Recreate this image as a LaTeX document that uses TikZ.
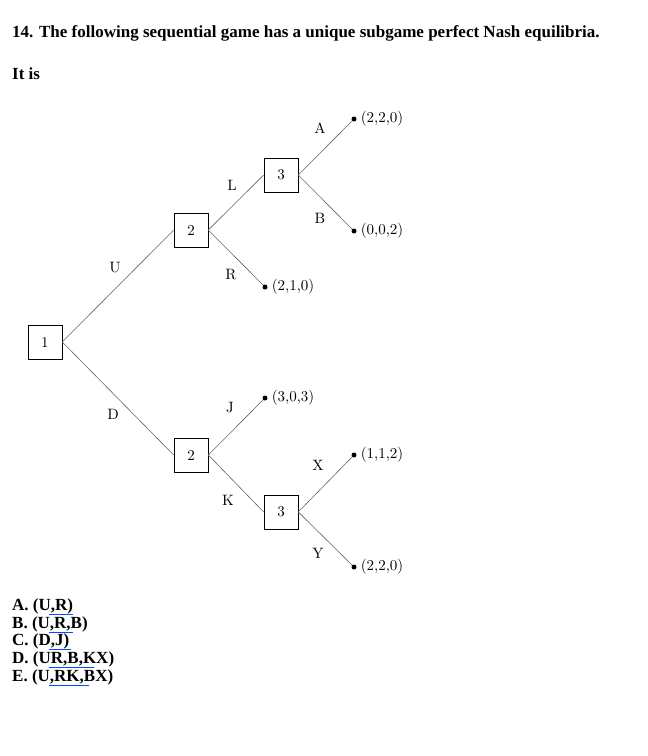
\documentclass[tikz,border=0pt]{standalone}
\usepackage{fontspec}
\newfontfamily\tms{Liberation Serif}
\begin{document}
\begin{tikzpicture}[x=1pt,y=-1pt,
  big/.style={scale=1.5,transform shape},
  pl/.style={draw,big,minimum size=22.7pt,inner sep=0pt,line width=0.4pt},
  br/.style={draw=gray!80!black,line width=0.6pt},
  lf/.style={circle,fill,inner sep=0pt,minimum size=5pt},
  pay/.style={big,anchor=west,inner sep=2.5pt},
  lab/.style={big,inner sep=0pt},
  q/.style={anchor=west,font=\tms\bfseries\fontsize{17}{17}\selectfont,inner sep=0pt},
  wav/.style={draw=blue!70!cyan,line width=1.2pt}]
\useasboundingbox (0,0) rectangle (648,756);
\node[q] (t1) at (12,33) {14. The following sequential game has a unique subgame perfect Nash equilibria.};
\node[q] (t2) at (12,74) {It is};
\node[pl] (n1) at (45,342) {1};
\node[pl] (n2u) at (191,230) {2};
\node[pl] (n3u) at (281,175) {3};
\node[pl] (n2d) at (191,455) {2};
\node[pl] (n3d) at (281,512) {3};
\node[lf] (a) at (354,119) {};
\node[lf] (b) at (354,231) {};
\node[lf] (r) at (265,287) {};
\node[lf] (j) at (265,398) {};
\node[lf] (x) at (354,455) {};
\node[lf] (y) at (354,567) {};
\node[pay] at (a.east) {(2,2,0)};
\node[pay] at (b.east) {(0,0,2)};
\node[pay] at (r.east) {(2,1,0)};
\node[pay] at (j.east) {(3,0,3)};
\node[pay] at (x.east) {(1,1,2)};
\node[pay] at (y.east) {(2,2,0)};
\draw[br] (n1.east) -- (n2u.west);
\draw[br] (n1.east) -- (n2d.west);
\draw[br] (n2u.east) -- (n3u.west);
\draw[br] (n2u.east) -- (r);
\draw[br] (n3u.east) -- (a);
\draw[br] (n3u.east) -- (b);
\draw[br] (n2d.east) -- (j);
\draw[br] (n2d.east) -- (n3d.west);
\draw[br] (n3d.east) -- (x);
\draw[br] (n3d.east) -- (y);
\node[lab] at (115,268) {U};
\node[lab] at (113,414) {D};
\node[lab] at (232,185) {L};
\node[lab] at (231,275) {R};
\node[lab] at (320,128) {A};
\node[lab] at (320,218) {B};
\node[lab] at (230,408) {J};
\node[lab] at (228,500) {K};
\node[lab] at (318,465) {X};
\node[lab] at (318,553) {Y};
\node[q] (o1) at (12,606) {A. (U,R)};
\node[q] (o2) at (12,624) {B. (U,R,B)};
\node[q] (o3) at (12,641) {C. (D,J)};
\node[q] (o4) at (12,659) {D. (UR,B,KX)};
\node[q] (o5) at (12,677) {E. (U,RK,BX)};
\draw[wav] (49,614.5) -- (73,614.5);
\draw[wav] (49,632.5) -- (73,632.5);
\draw[wav] (49,649.5) -- (71,649.5);
\draw[wav] (49,667.5) -- (94,667.5);
\draw[wav] (49,685.5) -- (89,685.5);
\end{tikzpicture}
\end{document}
